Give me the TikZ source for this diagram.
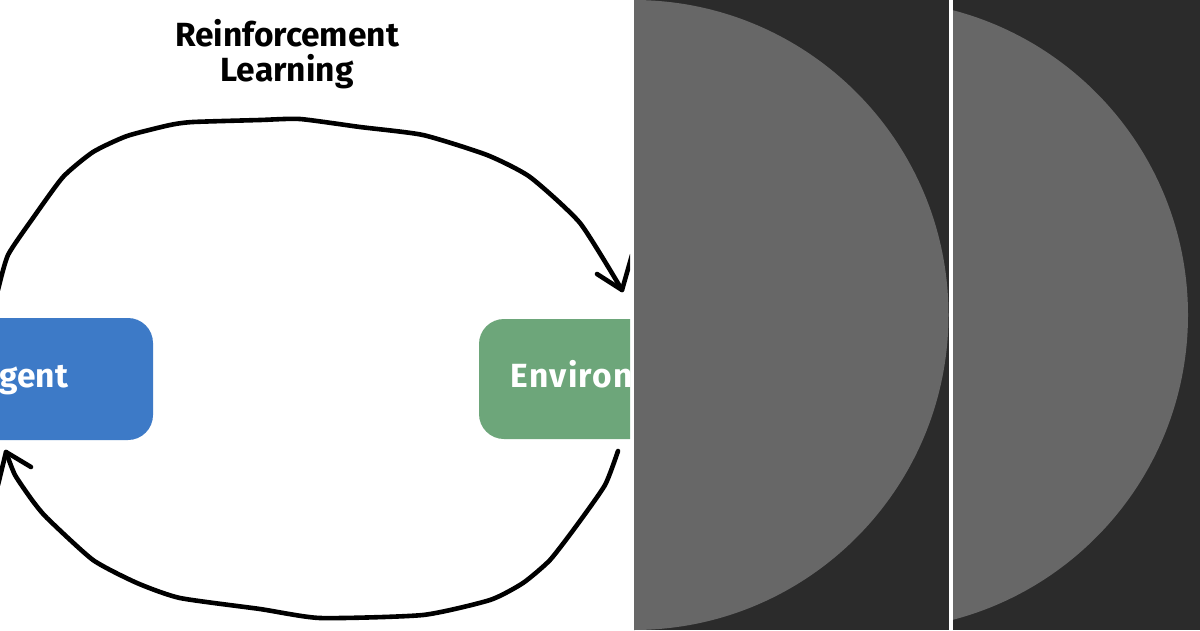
\documentclass[tikz,border=0pt]{standalone}
\usepackage{fontspec}
\setmainfont{Fira Sans}
\definecolor{agentblue}{HTML}{3D7AC7}
\definecolor{envgreen}{HTML}{6DA67A}
\definecolor{paneldark}{HTML}{2B2B2B}
\definecolor{panelgray}{HTML}{676767}
\tikzset{boxnode/.style={rounded corners=25pt, text=white, font=\fontsize{33.5}{38}\selectfont\bfseries, inner sep=0pt, text height=24pt, text depth=8pt},
handline/.style={line width=4.6pt, line cap=round, line join=round, black},}

\begin{document}
\begin{tikzpicture}[x=1pt, y=-1pt]
\useasboundingbox (0,0) rectangle (1200,630);
\fill[white] (0,0) rectangle (1200,630);
\begin{scope}
\clip (0,0) rectangle (630,630);
\node [boxnode, fill=agentblue, minimum width=258pt, minimum height=122pt] (agent) at (24,379) {Agent};
\node [boxnode, fill=envgreen, minimum width=269pt, minimum height=120pt] (env) at (613.5,379) {\addfontfeature{LetterSpace=3.5}Environment};
\coordinate (topstart) at (-2,290);
\coordinate (tophead) at (622,290);
\coordinate (topbarba) at (597,274);
\coordinate (topbarbb) at (632,255);
\coordinate (botstart) at (618,451);
\coordinate (bothead) at (6,452);
\coordinate (botbarba) at (31,467);
\coordinate (botbarbb) at (-2,485);
\draw[handline] plot[smooth, tension=0.35] coordinates {(topstart) (8,255) (33,218) (63,177) (93,152) (127,136) (170,125) (193,122) (260,120) (300,119) (360,127) (423,135) (487,155) (530,177) (580,223) (tophead)};
\draw[handline] (topbarba) -- (tophead) -- (topbarbb);
\draw[handline] plot[smooth, tension=0.35] coordinates {(botstart) (605,485) (577,525) (550,560) (523,583) (490,600) (423,615) (320,618) (260,609) (180,598) (137,583) (93,560) (47,518) (32,500) (15,475) (bothead)};
\draw[handline] (botbarba) -- (bothead) -- (botbarbb);
\end{scope}
\node [font=\fontsize{33.5}{35}\selectfont\bfseries, align=center] (title) at (287,54) {Reinforcement\\Learning};
\fill[paneldark] (634,0) rectangle (949,630);
\fill[paneldark] (953,0) rectangle (1200,630);
\begin{scope}
\clip (634,0) rectangle (949,630);
\fill[panelgray] (633.5,315) circle [radius=315];
\end{scope}
\begin{scope}
\clip (953,0) rectangle (1200,630);
\fill[panelgray] (873,315) circle [radius=315];
\end{scope}
\end{tikzpicture}
\end{document}
